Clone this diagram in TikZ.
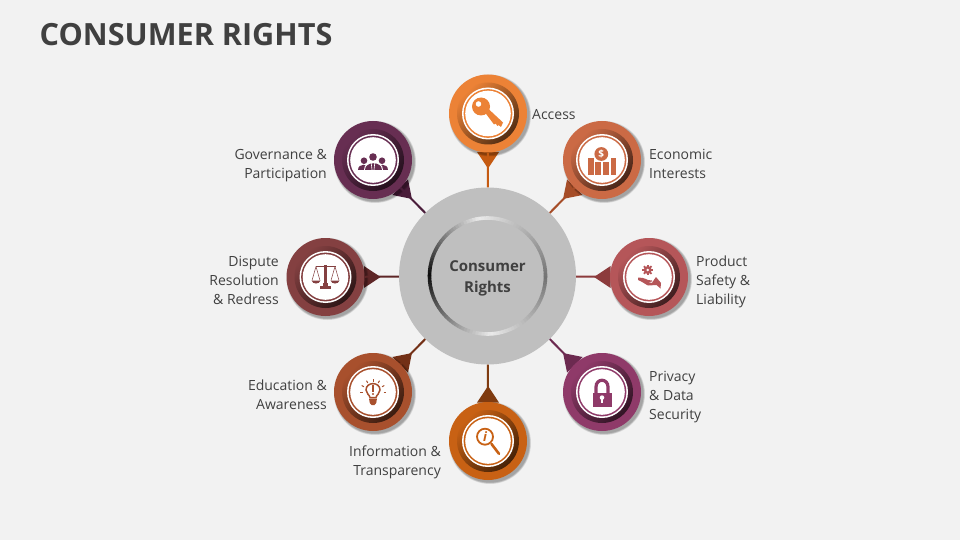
\documentclass[tikz,border=0pt]{standalone}
\usepackage{fontspec}
\setmainfont{Open Sans}
\definecolor{bgc}{HTML}{F2F2F2}
\definecolor{txt}{HTML}{404040}
\definecolor{hubc}{HTML}{BFBFBF}
\definecolor{accM}{HTML}{EC8236}\definecolor{accD}{HTML}{C55A11}
\definecolor{ecoM}{HTML}{CB6A45}\definecolor{ecoD}{HTML}{A64D28}
\definecolor{proM}{HTML}{B55659}\definecolor{proD}{HTML}{8C3B3C}
\definecolor{priM}{HTML}{8F3A69}\definecolor{priD}{HTML}{6C2A50}
\definecolor{infM}{HTML}{C86114}\definecolor{infD}{HTML}{7F3B10}
\definecolor{eduM}{HTML}{A8502D}\definecolor{eduD}{HTML}{733016}
\definecolor{disM}{HTML}{844041}\definecolor{disD}{HTML}{5E2627}
\definecolor{govM}{HTML}{672E52}\definecolor{govD}{HTML}{4A1D3A}
\tikzset{
  pindisc/.style={circle,inner sep=0pt,minimum size=78pt,draw=none},
  hubdisc/.style={circle,inner sep=0pt,minimum size=177pt,fill=hubc,draw=none},
  lbl/.style={text=txt,inner sep=0pt,font=\fontsize{14}{19}\selectfont,
    execute at begin node=\strut,execute at end node=\strut},
  lblL/.style={lbl,anchor=west,align=left},
  lblR/.style={lbl,anchor=east,align=right},
  conn/.style={line width=2pt},
}
\newcommand{\pinitem}[7]{%
  \begin{scope}[shift={(#2,#3)}]
    \colorlet{pinmain}{#5}
    \fill[#6] (#4-16:40) -- (#4:55) -- (#4+16:40) -- cycle;
    \foreach \rr in {39.5,40,40.5,41}{\fill[black,opacity=.09] (2,2) circle (\rr);}
    \node[pindisc,fill=#5] (#1) at (0,0) {};
    \shade[top color=#5,middle color=#5!78!black,bottom color=#5!35!black,shading angle=45] (0,0) circle (31);
    \fill[white] (0,0) circle (26);
    \fill[#5] (0,0) circle (24.4);
    \fill[white] (0,0) circle (22.8);
    #7
  \end{scope}}
\begin{document}
\begin{tikzpicture}[x=1pt,y=-1pt]
\useasboundingbox (0,0) rectangle (960,540);
\fill[bgc] (0,0) rectangle (960,540);
\node[anchor=west,inner sep=0pt,text=txt,font=\fontsize{30.6}{36}\bfseries\selectfont] (title) at (39.5,35) {CONSUMER RIGHTS};
% hub
\node[hubdisc] (hub) at (487.5,276) {};
\begin{scope}[shift={(487.5,276)}]
\foreach \a in {0,3,...,357}{
  \pgfmathsetmacro\g{\a<85 ? .45+.47*\a/85 : (\a<180 ? .92-.87*(\a-85)/95 : (\a<260 ? .05+.87*(\a-180)/80 : .92-.47*(\a-260)/100))}
  \pgfmathsetmacro\b{\a+3.4}
  \draw[line width=3.6pt,color={rgb,1:red,\g;green,\g;blue,\g}] (\a:58) -- (\b:58);
}
\end{scope}
\node[text=txt,inner sep=0pt,align=center,font=\fontsize{15}{21}\bfseries\selectfont] (hubtext) at (487.5,278) {Consumer\\Rights};
% Access: key
\pinitem{acc}{488}{113.5}{90}{accM}{accD}{
  \fill[pinmain,even odd rule] (-7,-7) circle (9) (-9.5,-9.5) circle (2.9);
  \fill[pinmain] (-3,-1) -- (0.5,-4.5) -- (15,9) -- (13,13.5) -- (10.5,11.5) -- (9.5,12.5) -- (7.5,10) -- (6,11) -- cycle;
}
% Economic
\pinitem{eco}{602}{160}{135}{ecoM}{ecoD}{
  \fill[pinmain] (-14,-1.7) rectangle (-8.3,15);
  \fill[pinmain] (-6.7,1.7) rectangle (-0.7,15);
  \fill[pinmain] (1,1.7) rectangle (7,15);
  \fill[pinmain] (8.7,-1.7) rectangle (14.3,15);
  \fill[white] (-0.7,-6) circle (8);
  \fill[pinmain] (-0.7,-6) circle (6.9);
  \node[text=white,inner sep=0pt,font=\fontsize{10}{10}\bfseries\selectfont] (ecoD1) at (-0.7,-6) {\$};
}
% Product safety: gear and hand
\pinitem{pro}{649}{277}{180}{proM}{proD}{
  \foreach \t in {0,45,...,315}{\draw[pinmain,line width=1.8pt] (-1.3,-7)++(\t:3) -- ++(\t:2.4);}
  \fill[pinmain,even odd rule] (-1.3,-7) circle (4) (-1.3,-7) circle (1.7);
  \fill[pinmain] (-11,0.5) .. controls (-8,0.3) and (-5,1) .. (-1,3) -- (3,3.5) -- (3,4.6) -- (-1,5) -- (3,6) .. controls (5,4) and (5,1.5) .. (7,0) -- (12,6) -- (11.5,11.5) -- (7.5,8) -- (-1,8.5) .. controls (-4,7) and (-7,4.5) .. (-11,3) -- cycle;
}
% Privacy: lock
\pinitem{pri}{602}{392}{225}{priM}{priD}{
  \draw[pinmain,line width=3.2pt] (-6,2) -- (-6,-5) .. controls (-6,-14) and (6,-14) .. (6,-5) -- (6,2);
  \fill[pinmain] (-9.5,0.7) rectangle (9.5,14.7);
  \fill[white] (0,5.6) circle (2.3);
  \fill[white] (-1,6) rectangle (1,11);
}
% Information: magnifier
\pinitem{inf}{488}{441}{270}{infM}{infD}{
  \draw[pinmain,line width=1.8pt] (-3,-4.3) circle (8);
  \draw[pinmain,line width=2.6pt,line cap=round] (3.5,3) -- (11,12.8);
  \node[text=pinmain,inner sep=0pt,font=\fontsize{13}{13}\bfseries\itshape\selectfont] (infI) at (-3,-4.3) {i};
}
% Education: bulb
\pinitem{edu}{373}{392}{315}{eduM}{eduD}{
  \draw[pinmain,line width=1.5pt] (-3,5.5) .. controls (-3.3,3) and (-7,1.5) .. (-7,-2) .. controls (-7,-10.5) and (7,-10.5) .. (7,-2) .. controls (7,1.5) and (3.3,3) .. (3,5.5) -- cycle;
  \fill[pinmain] (-4,6.5) -- (4,6.5) -- (3.2,11) -- (1.5,13) -- (-1.5,13) -- (-3.2,11) -- cycle;
  \fill[pinmain] (-1,-7) rectangle (1,-0.5);
  \fill[pinmain] (0,2) circle (1.2);
  \foreach \t in {0,180,210,240,270,300,330}{\draw[pinmain,line width=1pt] (\t-0:10.5) -- (\t:13);}
}
% Dispute: scales
\pinitem{dis}{325.5}{277}{0}{disM}{disD}{
  \draw[pinmain,line width=1.6pt] (-10,-10.5) -- (10,-10.5);
  \fill[pinmain] (-1.1,-12) rectangle (1.1,8);
  \fill[pinmain] (-2.5,6) rectangle (2.5,9);
  \fill[pinmain] (-5.5,9) rectangle (5.5,11.5);
  \foreach \s in {-1,1}{
    \draw[pinmain,line width=.5pt] (\s*9.5,-10.5) -- (\s*13.5,3.5) (\s*9.5,-10.5) -- (\s*5.5,3.5);
    \fill[pinmain] (\s*14,3.5) .. controls (\s*13,7.5) and (\s*6,7.5) .. (\s*5,3.5) -- cycle;
  }
}
% Governance: people
\pinitem{gov}{373}{160}{45}{govM}{govD}{
  \fill[pinmain] (-9,0.7) circle (3.3);
  \fill[pinmain] (9,0.7) circle (3.3);
  \fill[pinmain] (-15,10) .. controls (-15,3) and (-4,3) .. (-4,10) -- cycle;
  \fill[pinmain] (15,10) .. controls (15,3) and (4,3) .. (4,10) -- cycle;
  \fill[white] (0,-3) circle (5);
  \fill[pinmain] (0,-3) circle (3.8);
  \fill[white] (-9.5,10) .. controls (-9.5,-0.5) and (9.5,-0.5) .. (9.5,10) -- cycle;
  \fill[pinmain] (-8.5,10) .. controls (-8.5,0.8) and (8.5,0.8) .. (8.5,10) -- cycle;
  \draw[white,line width=.6pt] (-1.8,2.6) -- (-1,10) (1.8,2.6) -- (1,10);
}
% connectors
\draw[conn,accD] (acc) -- (hub);
\draw[conn,ecoD] (eco) -- (hub);
\draw[conn,proD] (pro) -- (hub);
\draw[conn,priD] (pri) -- (hub);
\draw[conn,infD] (inf) -- (hub);
\draw[conn,eduD] (edu) -- (hub);
\draw[conn,disD] (dis) -- (hub);
\draw[conn,govD] (gov) -- (hub);
% labels
\node[lblL] (lacc) at (532,116.2) {Access};
\node[lblL] (leco) at (649,166.3) {Economic\\Interests};
\node[lblL] (lpro) at (696,282.8) {Product\\Safety \&\\Liability};
\node[lblL] (lpri) at (649,397.8) {Privacy\\\& Data\\Security};
\node[lblR] (linf) at (441,463.3) {Information \&\\Transparency};
\node[lblR] (ledu) at (327,397.3) {Education \&\\Awareness};
\node[lblR] (ldis) at (279,282.8) {Dispute\\Resolution\\\& Redress};
\node[lblR] (lgov) at (327,166.3) {Governance \&\\Participation};
\end{tikzpicture}
\end{document}
